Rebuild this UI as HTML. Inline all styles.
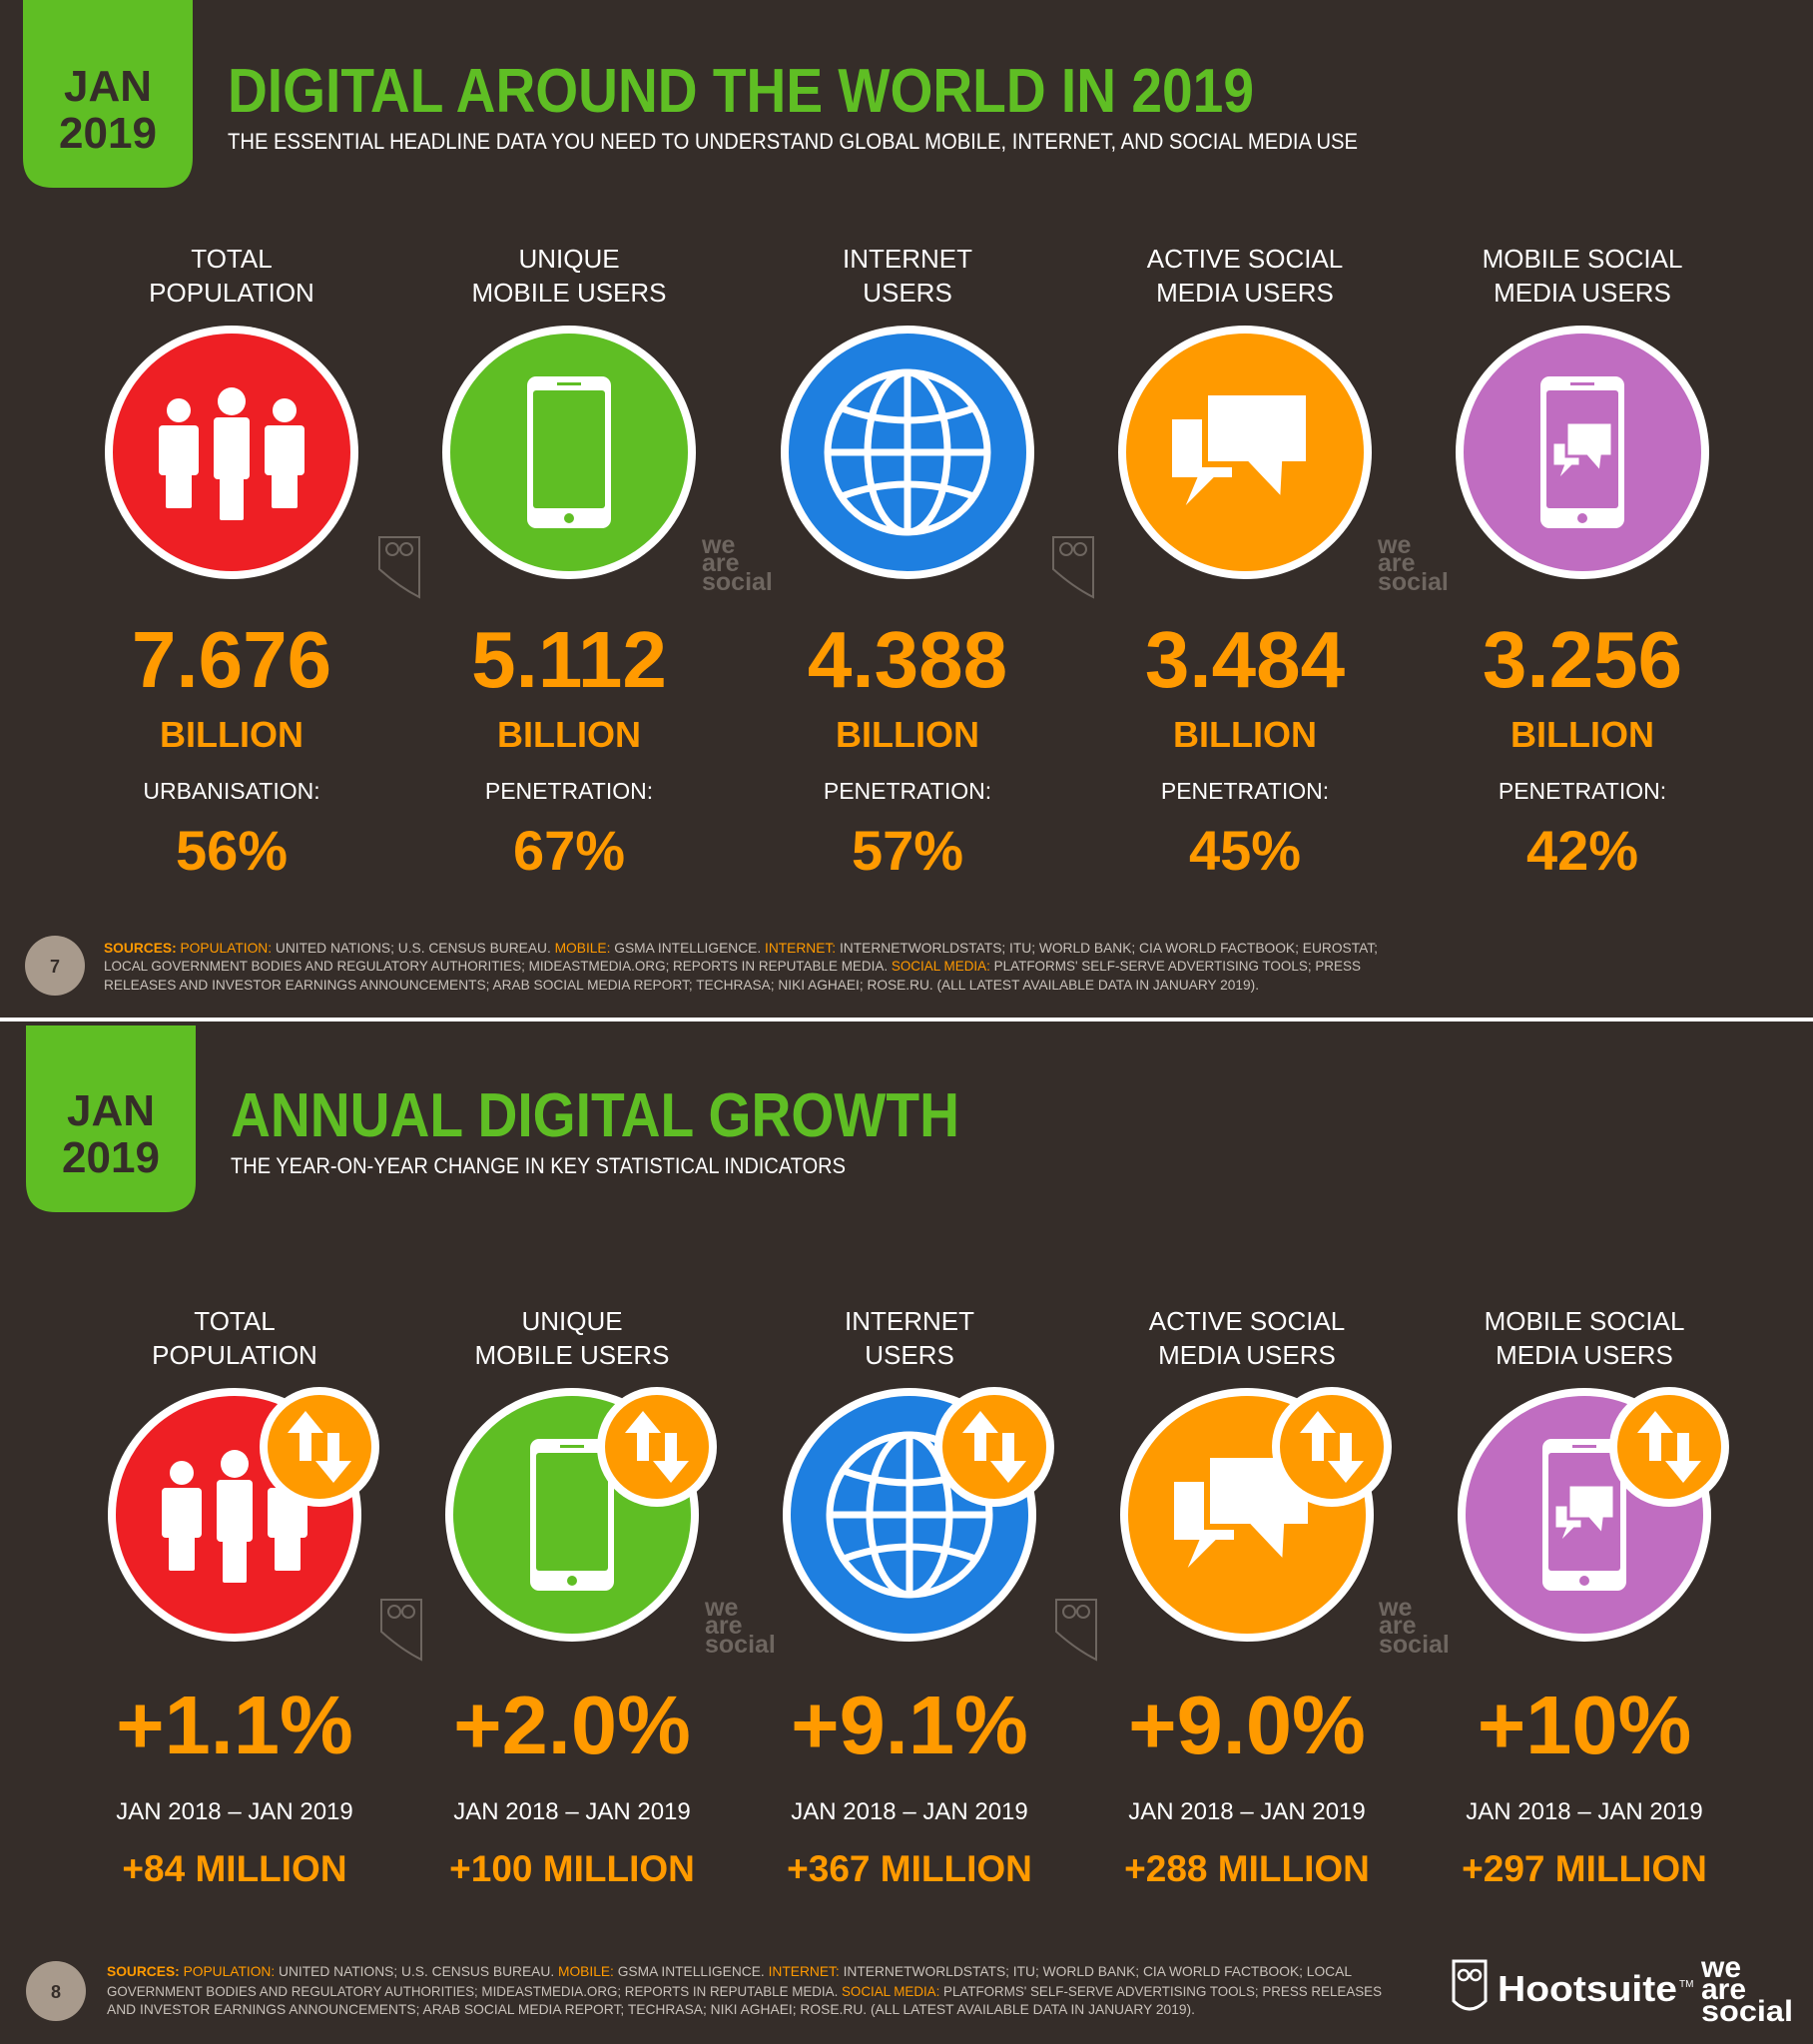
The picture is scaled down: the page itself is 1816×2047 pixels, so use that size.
<!DOCTYPE html>
<html><head><meta charset="utf-8">
<style>
html,body{margin:0;padding:0;background:#352d29;}
svg{display:block;font-family:"Liberation Sans",sans-serif;}
</style></head>
<body>
<svg id="root" width="1816" height="2047" viewBox="0 0 1816 2047" xmlns="http://www.w3.org/2000/svg">
<rect x="0" y="0" width="1816" height="2047" fill="#352d29"/>
<rect x="0" y="1019" width="1816" height="4" fill="#ffffff"/>

<path d="M23,0 H193 V158 Q193,188 163,188 H53 Q23,188 23,158 Z" fill="#5fbe24"/>
<text x="108" y="101" text-anchor="middle" font-size="44" font-weight="bold" fill="#352d29">JAN</text>
<text x="108" y="148" text-anchor="middle" font-size="44" font-weight="bold" fill="#352d29">2019</text>
<text x="228" y="112" font-size="62" font-weight="bold" fill="#5fbe24" textLength="1028" lengthAdjust="spacingAndGlyphs">DIGITAL AROUND THE WORLD IN 2019</text>
<text x="228" y="149" font-size="22" fill="#ffffff" textLength="1132" lengthAdjust="spacingAndGlyphs">THE ESSENTIAL HEADLINE DATA YOU NEED TO UNDERSTAND GLOBAL MOBILE, INTERNET, AND SOCIAL MEDIA USE</text>

<path d="M26,1027 H196 V1184 Q196,1214 166,1214 H56 Q26,1214 26,1184 Z" fill="#5fbe24"/>
<text x="111" y="1127" text-anchor="middle" font-size="44" font-weight="bold" fill="#352d29">JAN</text>
<text x="111" y="1174" text-anchor="middle" font-size="44" font-weight="bold" fill="#352d29">2019</text>
<text x="231" y="1138" font-size="62" font-weight="bold" fill="#5fbe24" textLength="730" lengthAdjust="spacingAndGlyphs">ANNUAL DIGITAL GROWTH</text>
<text x="231" y="1175" font-size="22" fill="#ffffff" textLength="616" lengthAdjust="spacingAndGlyphs">THE YEAR-ON-YEAR CHANGE IN KEY STATISTICAL INDICATORS</text>

<circle cx="55" cy="967" r="30" fill="#a89a8c"/>
<text x="55" y="974" text-anchor="middle" font-size="18" font-weight="bold" fill="#352d29">7</text>
<g font-size="14" fill="#c9c2bb">
<text x="104" y="954" textLength="1276" lengthAdjust="spacingAndGlyphs"><tspan fill="#ff9a00" font-weight="bold">SOURCES: </tspan><tspan fill="#ff9a00">POPULATION:</tspan> UNITED NATIONS; U.S. CENSUS BUREAU. <tspan fill="#ff9a00">MOBILE:</tspan> GSMA INTELLIGENCE. <tspan fill="#ff9a00">INTERNET:</tspan> INTERNETWORLDSTATS; ITU; WORLD BANK; CIA WORLD FACTBOOK; EUROSTAT;</text>
<text x="104" y="972" textLength="1259" lengthAdjust="spacingAndGlyphs">LOCAL GOVERNMENT BODIES AND REGULATORY AUTHORITIES; MIDEASTMEDIA.ORG; REPORTS IN REPUTABLE MEDIA. <tspan fill="#ff9a00">SOCIAL MEDIA:</tspan> PLATFORMS' SELF-SERVE ADVERTISING TOOLS; PRESS</text>
<text x="104" y="991" textLength="1157" lengthAdjust="spacingAndGlyphs">RELEASES AND INVESTOR EARNINGS ANNOUNCEMENTS; ARAB SOCIAL MEDIA REPORT; TECHRASA; NIKI AGHAEI; ROSE.RU. (ALL LATEST AVAILABLE DATA IN JANUARY 2019).</text>
</g>

<circle cx="56" cy="1994" r="30" fill="#a89a8c"/>
<text x="56" y="2001" text-anchor="middle" font-size="18" font-weight="bold" fill="#352d29">8</text>
<g font-size="14" fill="#c9c2bb">
<text x="107" y="1979" textLength="1247" lengthAdjust="spacingAndGlyphs"><tspan fill="#ff9a00" font-weight="bold">SOURCES: </tspan><tspan fill="#ff9a00">POPULATION:</tspan> UNITED NATIONS; U.S. CENSUS BUREAU. <tspan fill="#ff9a00">MOBILE:</tspan> GSMA INTELLIGENCE. <tspan fill="#ff9a00">INTERNET:</tspan> INTERNETWORLDSTATS; ITU; WORLD BANK; CIA WORLD FACTBOOK; LOCAL</text>
<text x="107" y="1999" textLength="1277" lengthAdjust="spacingAndGlyphs">GOVERNMENT BODIES AND REGULATORY AUTHORITIES; MIDEASTMEDIA.ORG; REPORTS IN REPUTABLE MEDIA. <tspan fill="#ff9a00">SOCIAL MEDIA:</tspan> PLATFORMS' SELF-SERVE ADVERTISING TOOLS; PRESS RELEASES</text>
<text x="107" y="2017" textLength="1090" lengthAdjust="spacingAndGlyphs">AND INVESTOR EARNINGS ANNOUNCEMENTS; ARAB SOCIAL MEDIA REPORT; TECHRASA; NIKI AGHAEI; ROSE.RU. (ALL LATEST AVAILABLE DATA IN JANUARY 2019).</text>
</g>

<g>
<path d="M1456,1964 h32 v40 q-16,16 -32,0 z" fill="none" stroke="#fff" stroke-width="3"/>
<circle cx="1466" cy="1978" r="5" fill="none" stroke="#fff" stroke-width="2.5"/>
<circle cx="1478" cy="1978" r="5" fill="none" stroke="#fff" stroke-width="2.5"/>
<text x="1500" y="2004" font-size="36" font-weight="bold" fill="#ffffff" textLength="180" lengthAdjust="spacingAndGlyphs">Hootsuite</text>
<text x="1682" y="1990" font-size="10" fill="#ffffff">TM</text>
</g>
<g font-size="30" font-weight="bold" fill="#ffffff">
<text x="1704" y="1980">we</text>
<text x="1704" y="2002">are</text>
<text x="1704" y="2024" textLength="92" lengthAdjust="spacingAndGlyphs">social</text>
</g>

<g id="cols"></g>
</svg>

<script>
const categories = ["TOTAL|POPULATION","UNIQUE|MOBILE USERS","INTERNET|USERS","ACTIVE SOCIAL|MEDIA USERS","MOBILE SOCIAL|MEDIA USERS"];
const headlineValues = ["7.676","5.112","4.388","3.484","3.256"];
const headlineUnits = ["BILLION","BILLION","BILLION","BILLION","BILLION"];
const rateLabels = ["URBANISATION:","PENETRATION:","PENETRATION:","PENETRATION:","PENETRATION:"];
const rateValues = ["56%","67%","57%","45%","42%"];
const growthPercent = ["+1.1%","+2.0%","+9.1%","+9.0%","+10%"];
const growthPeriod = ["JAN 2018 – JAN 2019","JAN 2018 – JAN 2019","JAN 2018 – JAN 2019","JAN 2018 – JAN 2019","JAN 2018 – JAN 2019"];
const growthAbsolute = ["+84 MILLION","+100 MILLION","+367 MILLION","+288 MILLION","+297 MILLION"];
const circleColors = ["#ee1f24","#5fbe24","#1e7fe0","#ff9a00","#c06dc1"];

const NS = "http://www.w3.org/2000/svg";
const cols = document.getElementById("cols");
const WHITE = "#ffffff", ORANGE = "#ff9a00";

function mk(tag, attrs, parent){
  const e = document.createElementNS(NS, tag);
  for (const k in attrs) e.setAttribute(k, attrs[k]);
  (parent||cols).appendChild(e);
  return e;
}
function txt(x,y,s,size,weight,fill,parent){
  const t = mk("text",{x:x,y:y,"text-anchor":"middle","font-size":size,"font-weight":weight,fill:fill},parent);
  t.textContent = s;
  return t;
}

function iconPeople(g,color){
  mk("circle",{cx:0,cy:-51,r:14,fill:WHITE},g);
  mk("rect",{x:-18,y:-35,width:36,height:62,rx:4,fill:WHITE},g);
  mk("rect",{x:-12,y:20,width:24,height:48,rx:2,fill:WHITE},g);
  [-53,53].forEach(dx=>{
    mk("circle",{cx:dx,cy:-42,r:12,fill:WHITE},g);
    mk("rect",{x:dx-20,y:-27,width:40,height:50,rx:4,fill:WHITE},g);
    mk("rect",{x:dx-13,y:18,width:26,height:38,rx:2,fill:WHITE},g);
  });
}
function iconPhone(g,color){
  mk("rect",{x:-42,y:-76,width:84,height:152,rx:9,fill:WHITE},g);
  mk("rect",{x:-36,y:-62,width:72,height:118,rx:3,fill:color},g);
  mk("rect",{x:-12,y:-70,width:24,height:3,fill:color},g);
  mk("circle",{cx:0,cy:66,r:5,fill:color},g);
}
function iconGlobe(g,color){
  const st={fill:"none",stroke:WHITE,"stroke-width":7};
  mk("circle",Object.assign({cx:0,cy:0,r:80},st),g);
  mk("ellipse",Object.assign({cx:0,cy:0,rx:40,ry:80},st),g);
  mk("line",Object.assign({x1:0,y1:-80,x2:0,y2:80},st),g);
  mk("line",Object.assign({x1:-80,y1:0,x2:80,y2:0},st),g);
  mk("path",Object.assign({d:"M-66,-44 Q0,-20 66,-44"},st),g);
  mk("path",Object.assign({d:"M-66,44 Q0,20 66,44"},st),g);
}
function iconBubbles(g,color){
  mk("path",{d:"M-76,-36 H-10 V28 H-30 L-68,66 L-52,28 H-76 Z",fill:WHITE,stroke:color,"stroke-width":6},g);
  mk("path",{d:"M-40,-60 H64 V12 H40 L38,50 L2,12 H-40 Z",fill:WHITE,stroke:color,"stroke-width":6},g);
}
function iconMobileSocial(g,color){
  iconPhone(g,color);
  mk("path",{d:"M-30,-10 H-2 V14 H-10 L-26,30 L-20,14 H-30 Z",fill:WHITE,stroke:color,"stroke-width":3},g);
  mk("path",{d:"M-16,-30 H30 V4 H20 L18,20 L4,4 H-16 Z",fill:WHITE,stroke:color,"stroke-width":3},g);
}
const iconFns=[iconPeople,iconPhone,iconGlobe,iconBubbles,iconMobileSocial];

function owl(x,y){
  const g = mk("g",{transform:`translate(${x},${y})`,fill:"none",stroke:"#6e6660","stroke-width":2});
  
  
  mk("path",{d:"M-20,-28 H20 V32 Q0,22 -20,4 Z"},g);
  mk("circle",{cx:-7,cy:-16,r:6},g);
  mk("circle",{cx:7,cy:-16,r:6},g);
}
function was(x,y){
  const g = mk("g",{transform:`translate(${x},${y})`,fill:"#6e6660","font-size":25,"font-weight":"bold"});
  
  
  const a=mk("text",{x:0,y:-12},g); a.textContent="we";
  const b=mk("text",{x:0,y:6},g); b.textContent="are";
  const c=mk("text",{x:0,y:25},g); c.textContent="social";
}

function drawBadge(g){
  mk("circle",{cx:0,cy:0,r:60,fill:WHITE},g);
  mk("circle",{cx:0,cy:0,r:52,fill:ORANGE},g);
  mk("path",{d:"M-14,-36 L-32,-14 H-20 V14 H-8 V-14 H4 Z",fill:WHITE},g);
  mk("path",{d:"M14,36 L32,14 H20 V-14 H8 V14 H-4 Z",fill:WHITE},g);
}

function drawSection(centers, cy, labelY, isGrowth){
  categories.forEach((cat,i)=>{
    const cx = centers[i];
    const col = mk("g",{});
    
    
    const lines = cat.split("|");
    const l1 = txt(cx,labelY,lines[0],26,"normal",WHITE,col);
    
    
    const l2 = txt(cx,labelY+34,lines[1],26,"normal",WHITE,col);
    
    
    const c1 = mk("circle",{cx:cx,cy:cy,r:127,fill:WHITE},col);
    
    
    const c2 = mk("circle",{cx:cx,cy:cy,r:119,fill:circleColors[i]},col);
    
    
    const ig = mk("g",{transform:`translate(${cx},${cy})`},col);
    
    
    iconFns[i](ig,circleColors[i]);
    if(isGrowth){
      const bg = mk("g",{transform:`translate(${cx+85},${cy-68})`},col);
      
      
      drawBadge(bg);
      const gp = txt(cx,1756,growthPercent[i],83,"bold",ORANGE,col);
      
      
      const pp = txt(cx,1822,growthPeriod[i],24,"normal",WHITE,col);
      
      
      const ga = txt(cx,1884,growthAbsolute[i],37,"bold",ORANGE,col);
      
      
    } else {
      const hv = txt(cx,688,headlineValues[i],80,"bold",ORANGE,col);
      
      
      const hu = txt(cx,748,headlineUnits[i],36,"bold",ORANGE,col);
      
      
      const rl = txt(cx,800,rateLabels[i],23,"normal",WHITE,col);
      
      
      const rv = txt(cx,871,rateValues[i],56,"bold",ORANGE,col);
      
      
    }
  });
}

drawSection([232,570,909,1247,1585],453,268,false);
drawSection([235,573,911,1249,1587],1517,1332,true);
owl(400,566); owl(1075,566); owl(402,1630); owl(1078,1630);
was(703,566); was(1380,566); was(706,1630); was(1381,1630);
</script>
</body></html>
